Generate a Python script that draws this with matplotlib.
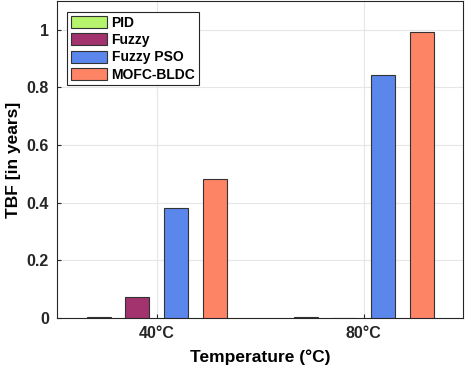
import numpy as np
import matplotlib.pyplot as plt

plt.rcParams['font.family'] = ['Liberation Sans', 'DejaVu Sans']

# Data
temps = ['40°C', '80°C']
series = ['PID', 'Fuzzy', 'Fuzzy PSO', 'MOFC-BLDC']
pid = [0.003, 0.003]
fuzzy = [0.074, 0.0]
fuzzy_pso = [0.383, 0.843]
mofc = [0.482, 0.992]
colors = ['#b5f46c', '#a2336f', '#5b87ec', '#fe8466']

values = [pid, fuzzy, fuzzy_pso, mofc]

fig = plt.figure(figsize=(4.74, 3.75), dpi=100)
ax = fig.add_axes([0.121, 0.152, 0.856, 0.846])

x = np.arange(1, len(temps) + 1)
step = 0.187
width = 0.115
for i, (name, vals, c) in enumerate(zip(series, values, colors)):
    ax.bar(x + (i - 1.5) * step, vals, width, color=c, edgecolor='#333333',
           linewidth=0.8, label=name, zorder=3)

ax.set_xlim(0.52, 2.48)
ax.set_ylim(0, 1.1)
ax.set_xticks(x)
ax.set_xticklabels(temps)
ax.set_yticks([0, 0.2, 0.4, 0.6, 0.8, 1.0])
ax.set_yticklabels(['0', '0.2', '0.4', '0.6', '0.8', '1'])
ax.grid(True, color='#e6e6e6', linewidth=0.8, zorder=0)
ax.tick_params(direction='in', length=3, colors='#262626', labelsize=11.5, pad=6)
for lbl in ax.get_xticklabels() + ax.get_yticklabels():
    lbl.set_fontweight('bold')
for s in ax.spines.values():
    s.set_color('#262626')
    s.set_linewidth(0.8)

ax.set_xlabel('Temperature (°C)', fontsize=12.5, fontweight='bold', labelpad=6)
ax.set_ylabel('TBF [in years]', fontsize=12.5, fontweight='bold', labelpad=4)

leg = ax.legend(loc='upper left', bbox_to_anchor=(0.0, 0.995),
                prop={'weight': 'bold', 'size': 10}, fancybox=False,
                edgecolor='#262626', framealpha=1, handlelength=2.6,
                handleheight=1.0, borderpad=0.25, labelspacing=0.25,
                handletextpad=0.35, borderaxespad=0.7)
leg.get_frame().set_linewidth(0.8)

fig.savefig('out.png', dpi=100)
